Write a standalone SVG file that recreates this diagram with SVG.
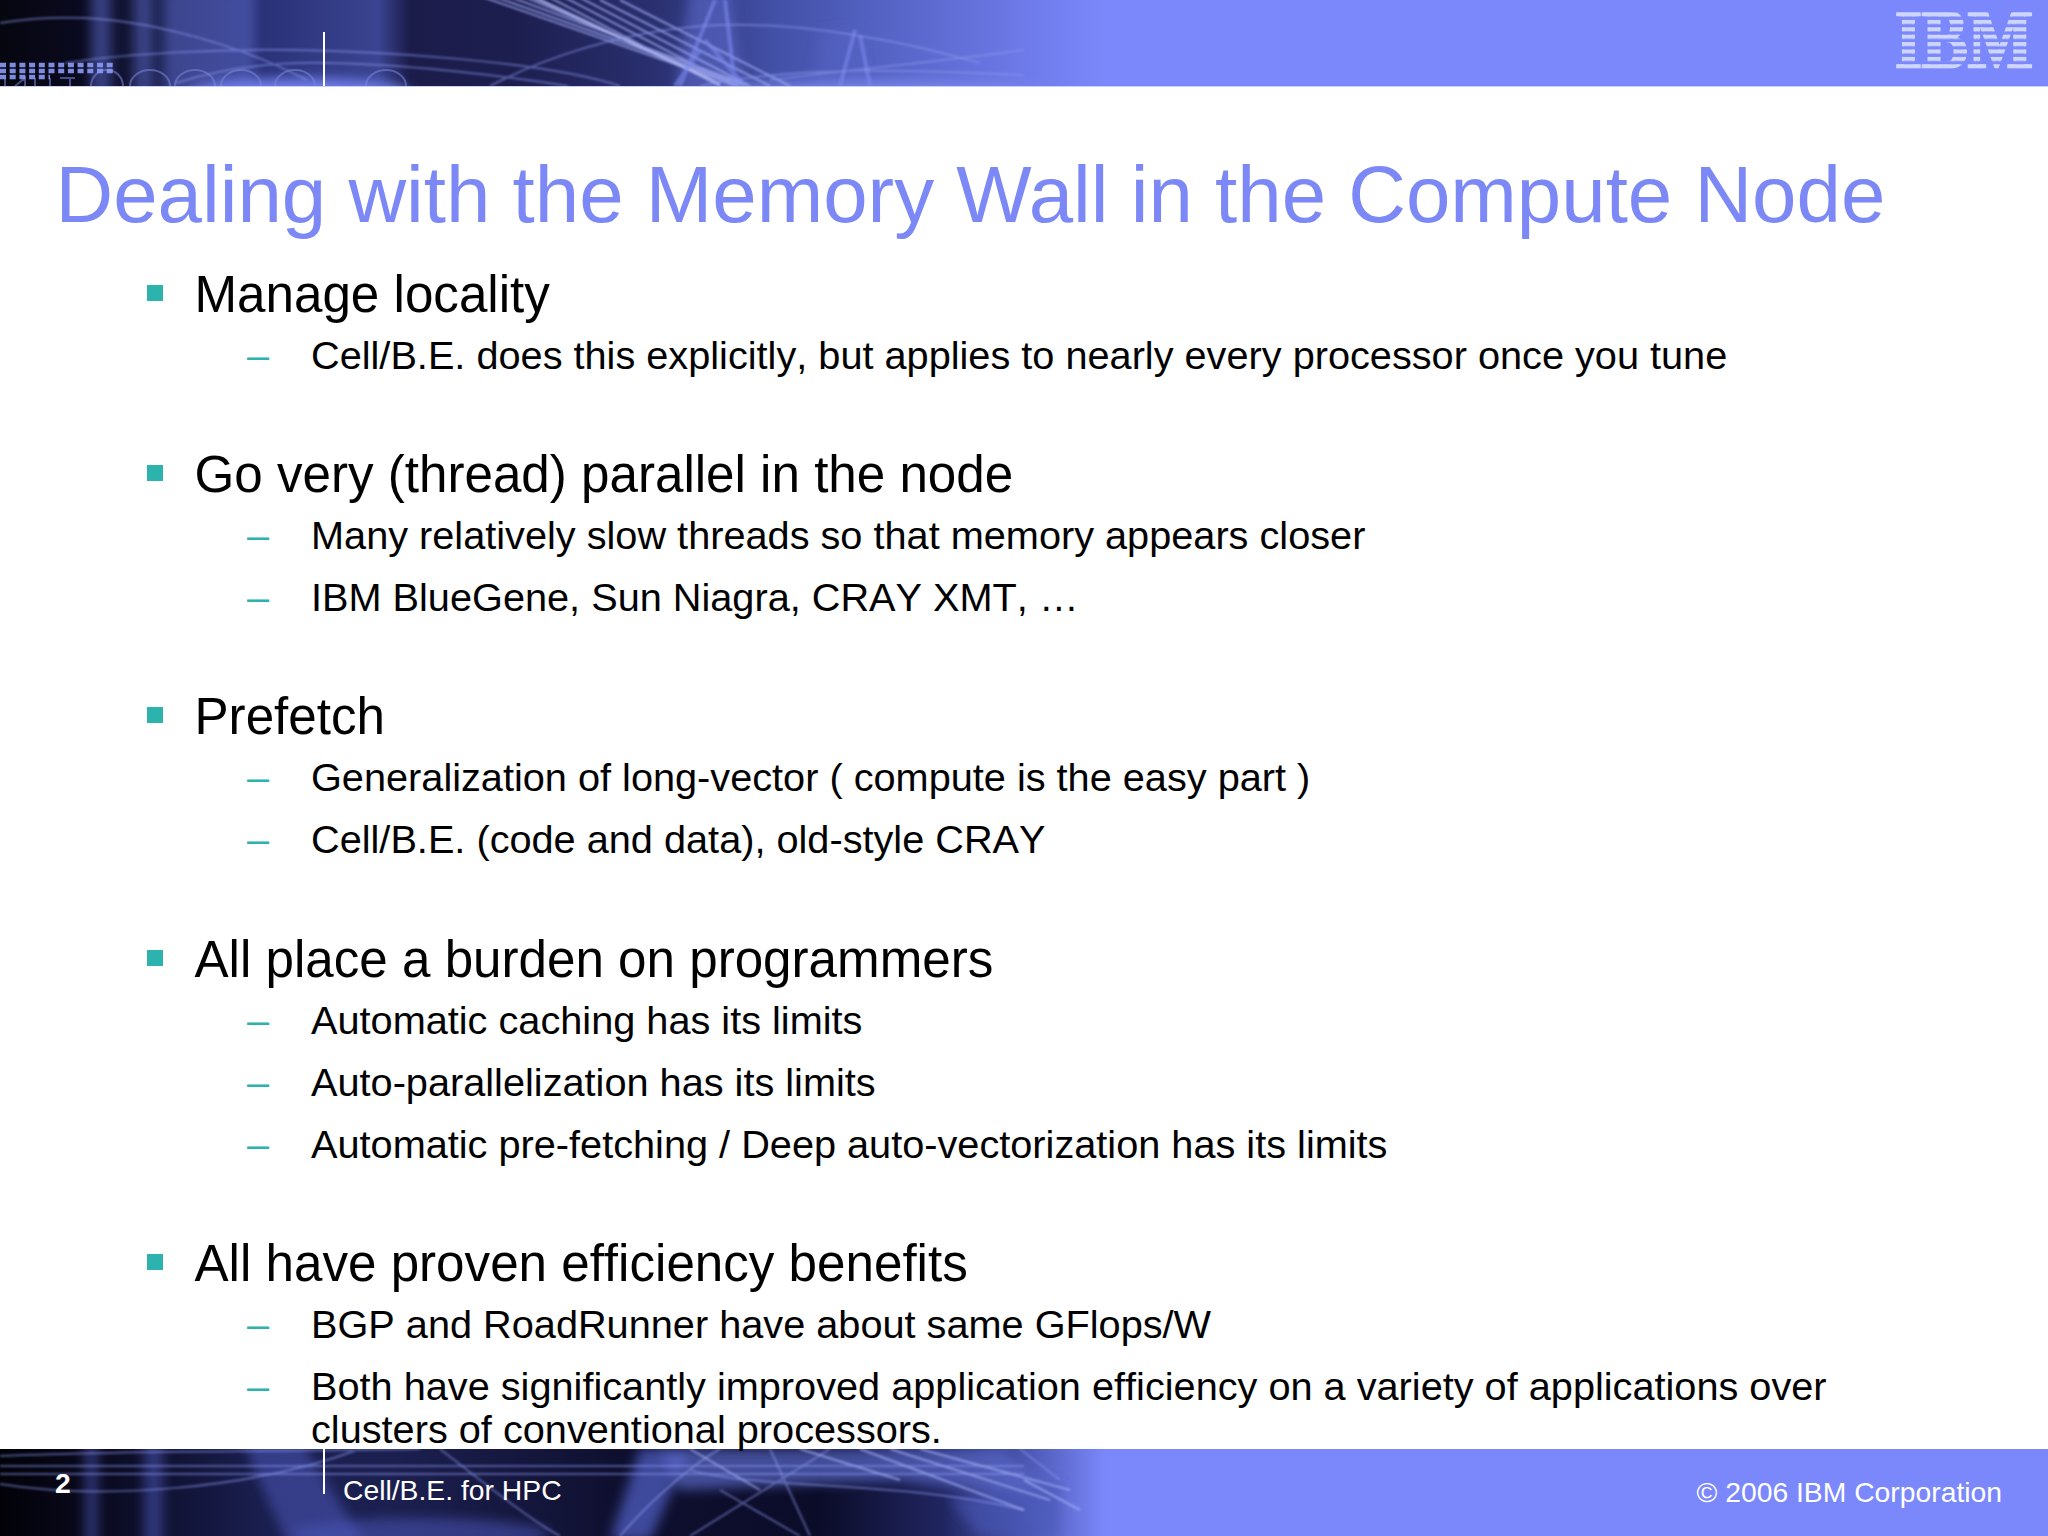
<svg xmlns="http://www.w3.org/2000/svg" width="2048" height="1536" viewBox="0 0 2048 1536">
<style>
text{font-family:"Liberation Sans",Arial,sans-serif}
.t{font-size:79.85px;fill:#7b88f5}
.a{font-size:51.15px;fill:#000;font-kerning:none}
.b{font-size:39.7px;fill:#000;font-kerning:none}
.d{font-size:39.7px;fill:#2db3ae}
.s{fill:#2db3ae}
.fl{fill:none;stroke:#8d98ef;stroke-opacity:.5;stroke-width:2}
.fh{fill:none;stroke:#a3adf5;stroke-opacity:.7;stroke-width:2}
.w{stroke:#fff;stroke-width:2}
.f{fill:#fff;font-size:28.3px}
</style>
<defs>
<linearGradient id="gh" x1="0" x2="1" y1="0" y2="0">
<stop offset="0" stop-color="#06060f"/><stop offset=".04" stop-color="#0a0a20"/><stop offset=".07" stop-color="#141638"/><stop offset=".13" stop-color="#2a3278"/><stop offset=".185" stop-color="#3a4490"/><stop offset=".2" stop-color="#1b1c4a"/><stop offset=".25" stop-color="#1c1e4e"/><stop offset=".32" stop-color="#2a3070"/><stop offset=".38" stop-color="#4351a8"/><stop offset=".445" stop-color="#5a68cc"/><stop offset=".5" stop-color="#6d7ae8"/><stop offset=".54" stop-color="#7b88fb"/><stop offset="1" stop-color="#7b88fb"/>
</linearGradient>
<linearGradient id="gf" x1="0" x2="1" y1="0" y2="0">
<stop offset="0" stop-color="#020208"/><stop offset=".05" stop-color="#0a0a20"/><stop offset=".13" stop-color="#1a1f50"/><stop offset=".19" stop-color="#1c2050"/><stop offset=".3" stop-color="#0f1030"/><stop offset=".4" stop-color="#0b0c28"/><stop offset=".46" stop-color="#202560"/><stop offset=".5" stop-color="#4a55b0"/><stop offset=".54" stop-color="#7b88fb"/><stop offset="1" stop-color="#7b88fb"/>
</linearGradient>
<filter id="bl" x="-30%" y="-30%" width="160%" height="160%"><feGaussianBlur stdDeviation="6"/></filter>
<filter id="bs" x="-10%" y="-10%" width="120%" height="120%"><feGaussianBlur stdDeviation=".8"/></filter>
<pattern id="st" patternUnits="userSpaceOnUse" x="0" y="12.5" width="10" height="7.4"><rect width="10" height="4" fill="#cfd6fd"/></pattern>
<clipPath id="ch"><rect width="2048" height="86"/></clipPath>
<clipPath id="cf"><rect y="1449" width="2048" height="87"/></clipPath>
</defs>
<rect width="2048" height="1536" fill="#fff"/>
<g id="header" clip-path="url(#ch)">
<rect width="2048" height="86" fill="url(#gh)"/>
<g filter="url(#bl)" fill="#5a68c8" fill-opacity=".55">
<rect x="91" y="-10" width="20" height="110"/><rect x="134" y="-10" width="19" height="110"/><rect x="163" y="-10" width="92" height="110"/>
<polygon points="690,-10 730,-10 745,100 675,100" fill-opacity=".6"/>
<polygon points="820,30 860,30 870,100 810,100" fill-opacity=".35"/>
<ellipse cx="300" cy="92" rx="110" ry="14" fill="#6e7de8" fill-opacity="1"/>
<ellipse cx="880" cy="90" rx="170" ry="10" fill="#7b88ee" fill-opacity=".8"/>
</g>
<g filter="url(#bs)">
<path class="fh" d="M477 -5L738 86M490 -5L745 86M505 -5L750 86M520 -5L735 86M545 -5L720 86M560 -5L735 86M575 -5L750 86M600 0L770 86M620 0L790 86"/>
<path d="M529 -5L720 84" fill="none" stroke="#b5bdf8" stroke-width="3" stroke-opacity=".8"/>
<path d="M700 50L675 86M705 40L745 86M715 0L680 86M725 0L735 86M855 30L840 86M860 35L870 86" fill="none" stroke="#7b88ee" stroke-width="4" stroke-opacity=".6"/>
<path class="fl" d="M0 23C30 18 60 17 85 18C130 20 220 35 307 80M65 63C130 53 220 49 294 50C370 51 540 60 620 86M176 83C230 66 280 62 327 63C400 64 500 75 568 86M490 86C540 60 620 30 718 25C800 22 900 40 980 63"/>
<path class="fl" d="M770 80C850 70 950 60 1024 50M700 86C800 65 920 70 1024 75"/>
</g>
<g fill="none" stroke="#7a86dd" stroke-opacity=".55" stroke-width="2">
<path d="M5 86V78M15 86L25 78V86M35 78V86M50 78V86M60 78H75M70 78V86"/>
<ellipse cx="107" cy="86" rx="16" ry="16"/><ellipse cx="150" cy="86" rx="20" ry="16"/><ellipse cx="195" cy="86" rx="20" ry="16"/><ellipse cx="241" cy="86" rx="20" ry="16"/><ellipse cx="295" cy="86" rx="20" ry="16"/><ellipse cx="386" cy="86" rx="20" ry="16"/>
</g>
<g fill="none" stroke="#8d9af5" stroke-opacity=".9" stroke-width="4.5" stroke-dasharray="6 3.7">
<path d="M0 65H116M0 71H116"/><path d="M0 77H50"/>
</g>
</g>
<rect x="0" y="86" width="2048" height="1" fill="#c9cffb"/>
<line class="w" x1="324" y1="32" x2="324" y2="86"/>
<text x="1895" y="68" font-size="85" font-weight="700" textLength="138" lengthAdjust="spacingAndGlyphs" stroke-width="3" style="font-family:'Liberation Serif',serif;fill:url(#st);stroke:url(#st)">IBM</text>
<g id="footer" clip-path="url(#cf)">
<rect y="1449" width="2048" height="87" fill="url(#gf)"/>
<g filter="url(#bl)" fill="#4a58b8" fill-opacity=".55">
<rect x="85" y="1440" width="13" height="110"/><rect x="144" y="1440" width="19" height="110"/><polygon points="242,1440 300,1440 370,1550 290,1550"/>
<ellipse cx="420" cy="1534" rx="130" ry="16"/>
<polygon points="640,1449 690,1449 650,1540 610,1540" fill-opacity=".8"/>
<polygon points="660,1449 1000,1449 1060,1500 900,1480 680,1490" fill="#5a68c8" fill-opacity=".7"/>
<polygon points="950,1500 1060,1480 1060,1536 980,1536" fill="#4a58b8" fill-opacity=".6"/>
</g>
<g filter="url(#bs)">
<path class="fl" d="M0 1466H1024M0 1474H1024"/>
<path class="fl" d="M0 1484C100 1500 250 1490 360 1449M440 1449C480 1480 530 1520 560 1536M620 1536C660 1490 700 1460 720 1449M690 1470C760 1490 900 1480 1024 1510M1020 1449L1060 1480M690 1536L830 1449M720 1490L800 1536M770 1449L810 1536M0 1456C150 1450 300 1452 420 1449"/>
<path class="fh" d="M860 1449L1024 1510M890 1449L1050 1500M920 1449L1070 1490M1024 1480L1080 1510M690 1449L760 1490M800 1449L900 1480" stroke-width="2.5"/>
</g>
</g>
<line class="w" x1="324" y1="1449" x2="324" y2="1494"/>
<text class="f" x="55" y="1493" style="font-weight:700">2</text>
<text class="f" x="343" y="1500">Cell/B.E. for HPC</text>
<text class="f" x="2002" y="1502" text-anchor="end">© 2006 IBM Corporation</text>
<text class="t" x="55.5" y="221.5">Dealing with the Memory Wall in the Compute Node</text>
<g id="body">
<rect class="s" x="147" y="285" width="16" height="16"/><text class="a" x="194.5" y="312">Manage locality</text>
<text class="d" x="247" y="369">–</text><text class="b" x="311" y="369">Cell/B.E. does this explicitly, but applies to nearly every processor once you tune</text>
<rect class="s" x="147" y="465" width="16" height="16"/><text class="a" x="194.5" y="492">Go very (thread) parallel in the node</text>
<text class="d" x="247" y="549">–</text><text class="b" x="311" y="549">Many relatively slow threads so that memory appears closer</text>
<text class="d" x="247" y="611">–</text><text class="b" x="311" y="611">IBM BlueGene, Sun Niagra, CRAY XMT, …</text>
<rect class="s" x="147" y="707" width="16" height="16"/><text class="a" x="194.5" y="734">Prefetch</text>
<text class="d" x="247" y="791">–</text><text class="b" x="311" y="791">Generalization of long-vector ( compute is the easy part )</text>
<text class="d" x="247" y="853">–</text><text class="b" x="311" y="853">Cell/B.E. (code and data), old-style CRAY</text>
<rect class="s" x="147" y="950" width="16" height="16"/><text class="a" x="194.5" y="977">All place a burden on programmers</text>
<text class="d" x="247" y="1034">–</text><text class="b" x="311" y="1034">Automatic caching has its limits</text>
<text class="d" x="247" y="1096">–</text><text class="b" x="311" y="1096">Auto-parallelization has its limits</text>
<text class="d" x="247" y="1158">–</text><text class="b" x="311" y="1158">Automatic pre-fetching / Deep auto-vectorization has its limits</text>
<rect class="s" x="147" y="1254" width="16" height="16"/><text class="a" x="194.5" y="1281">All have proven efficiency benefits</text>
<text class="d" x="247" y="1338">–</text><text class="b" x="311" y="1338">BGP and RoadRunner have about same GFlops/W</text>
<text class="d" x="247" y="1400">–</text><text class="b" x="311" y="1400">Both have significantly improved application efficiency on a variety of applications over</text>
<text class="b" x="311" y="1443">clusters of conventional processors.</text>
</g>
</svg>
